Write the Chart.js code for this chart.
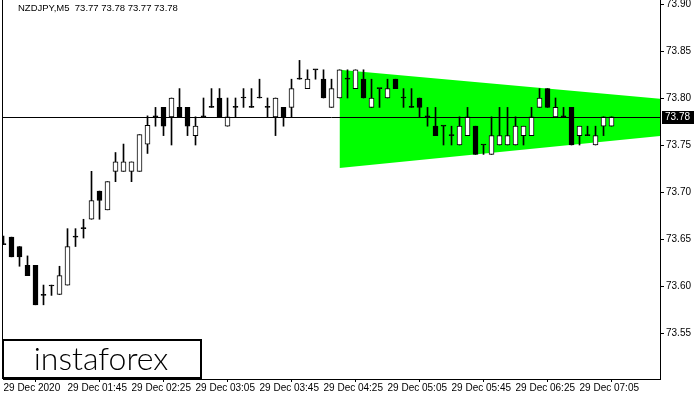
<!DOCTYPE html>
<html>
<head>
<meta charset="utf-8">
<script src="https://cdn.jsdelivr.net/npm/chart.js@4"></script>
<style>
  body { margin: 0; background: #fff; }
</style>
</head>
<body>
<canvas id="chart" width="700" height="400"></canvas>
<script>
// NZDJPY M5 candles, one entry per bar
const opens  = [73.645,73.652,73.642,73.622,73.622,73.590,73.600,73.591,73.601,73.652,
                73.661,73.671,73.701,73.681,73.722,73.722,73.722,73.722,73.751,73.780,
                73.790,73.780,73.790,73.790,73.760,73.780,73.790,73.800,73.770,73.790,
                73.800,73.790,73.800,73.790,73.780,73.790,73.790,73.820,73.810,73.830,
                73.820,73.790,73.800,73.820,73.810,73.820,73.790,73.810,73.800,73.820,
                73.800,73.790,73.800,73.780,73.770,73.770,73.760,73.750,73.760,73.770,
                73.750,73.740,73.750,73.750,73.750,73.760,73.760,73.790,73.810,73.780,
                73.780,73.790,73.760,73.760,73.750,73.770,73.770];
const highs  = [73.653,73.652,73.642,73.632,73.622,73.601,73.601,73.621,73.661,73.661,
                73.671,73.722,73.701,73.711,73.742,73.751,73.732,73.761,73.781,73.790,
                73.790,73.800,73.810,73.790,73.780,73.800,73.810,73.810,73.800,73.800,
                73.810,73.810,73.820,73.800,73.800,73.790,73.820,73.840,73.830,73.830,
                73.830,73.820,73.830,73.830,73.830,73.830,73.820,73.810,73.820,73.820,
                73.810,73.810,73.800,73.790,73.790,73.770,73.770,73.780,73.790,73.770,
                73.750,73.780,73.790,73.790,73.780,73.770,73.790,73.810,73.810,73.800,
                73.790,73.790,73.770,73.770,73.770,73.780,73.780];
const lows   = [73.644,73.631,73.621,73.611,73.580,73.580,73.590,73.591,73.601,73.642,
                73.651,73.671,73.671,73.681,73.711,73.722,73.711,73.722,73.741,73.770,
                73.760,73.750,73.780,73.760,73.750,73.780,73.790,73.780,73.770,73.780,
                73.790,73.790,73.800,73.780,73.760,73.770,73.780,73.820,73.810,73.820,
                73.800,73.790,73.800,73.800,73.810,73.800,73.790,73.790,73.800,73.810,
                73.790,73.790,73.780,73.770,73.760,73.750,73.750,73.750,73.760,73.740,
                73.740,73.740,73.750,73.750,73.750,73.750,73.760,73.790,73.790,73.780,
                73.780,73.750,73.750,73.760,73.750,73.760,73.770];
const closes = [73.644,73.631,73.631,73.611,73.580,73.590,73.600,73.611,73.642,73.652,
                73.661,73.691,73.691,73.711,73.732,73.732,73.732,73.761,73.771,73.780,
                73.770,73.800,73.780,73.770,73.770,73.780,73.790,73.780,73.780,73.790,
                73.800,73.790,73.800,73.790,73.800,73.780,73.810,73.820,73.820,73.830,
                73.800,73.810,73.830,73.820,73.830,73.800,73.800,73.810,73.810,73.810,
                73.800,73.790,73.790,73.780,73.760,73.770,73.760,73.770,73.780,73.740,
                73.750,73.760,73.760,73.760,73.770,73.770,73.780,73.800,73.790,73.790,
                73.780,73.750,73.770,73.760,73.760,73.780,73.780];

// bars that carry a time label, and the labels
const xTickBars = [0, 8, 16, 24, 32, 40, 48, 56, 64, 72];
const xLabels = ['29 Dec 2020', '29 Dec 01:45', '29 Dec 02:25', '29 Dec 03:05', '29 Dec 03:45',
                 '29 Dec 04:25', '29 Dec 05:05', '29 Dec 05:45', '29 Dec 06:25', '29 Dec 07:05'];
const yTicks = [73.55, 73.60, 73.65, 73.70, 73.75, 73.80, 73.85, 73.90];

// symmetrical triangle (start bar -> right edge)
const triBars  = [42, 82.2];
const triUpper = [73.830, 73.799];
const triLower = [73.7255, 73.7596];

const bidPrice = 73.78;
const title = 'NZDJPY,M5  73.77 73.78 73.77 73.78';

const bars = opens.map((_, i) => i);

const extras = {
  id: 'extras',
  afterDatasetsDraw(chart) {
    const ctx = chart.ctx;
    const a = chart.chartArea;
    const y = Math.round(chart.scales.y.getPixelForValue(bidPrice)) + 0.5;
    ctx.save();
    ctx.strokeStyle = '#000';
    ctx.lineWidth = 1;
    ctx.beginPath();
    ctx.moveTo(a.left, y);
    ctx.lineTo(a.right, y);
    ctx.stroke();
    ctx.restore();
  },
  afterDraw(chart) {
    const ctx = chart.ctx;
    const a = chart.chartArea;
    const y = Math.round(chart.scales.y.getPixelForValue(bidPrice)) + 0.5;
    ctx.save();
    // left border
    ctx.strokeStyle = '#000';
    ctx.lineWidth = 1;
    ctx.beginPath();
    ctx.moveTo(a.left - 0.5, 0);
    ctx.lineTo(a.left - 0.5, a.bottom);
    ctx.stroke();
    // bid label on the price axis
    ctx.fillStyle = '#000';
    ctx.fillRect(a.right + 2, y - 6.5, 32, 13);
    ctx.fillStyle = '#fff';
    ctx.font = '10px "Liberation Sans"';
    ctx.textBaseline = 'middle';
    ctx.fillText(bidPrice.toFixed(2), a.right + 5, y);
    // title
    ctx.fillStyle = '#000';
    ctx.font = '9.5px "Liberation Sans"';
    ctx.fillText(title, 18, 8);
    // logo
    ctx.fillStyle = '#fff';
    ctx.fillRect(3, 340, 198, 38);
    ctx.lineWidth = 2;
    ctx.strokeRect(3, 340, 198, 38);
    ctx.fillStyle = '#000';
    ctx.font = '300 32px Lato';
    ctx.textAlign = 'center';
    ctx.fillText('instaforex', 101, 360);
    ctx.restore();
  }
};

new Chart(document.getElementById('chart'), {
  data: {
    datasets: [
      {
        type: 'bar',
        data: bars.map(i => ({ x: i, y: [opens[i], closes[i]] })),
        backgroundColor: bars.map(i => closes[i] > opens[i] ? '#fff' : '#000'),
        borderColor: '#000',
        borderWidth: 1,
        borderSkipped: false,
        barThickness: 5,
        minBarLength: 1,
        grouped: false,
        order: 1
      },
      {
        type: 'bar',
        data: bars.map(i => ({ x: i, y: [lows[i], highs[i]] })),
        backgroundColor: '#000',
        barThickness: 1,
        grouped: false,
        order: 2
      },
      {
        type: 'line',
        data: triBars.map((b, i) => ({ x: b, y: triUpper[i] })),
        borderColor: 'rgba(0,0,0,0)',
        borderWidth: 0,
        pointRadius: 0,
        backgroundColor: '#00ff00',
        fill: '+1',
        order: 3
      },
      {
        type: 'line',
        data: triBars.map((b, i) => ({ x: b, y: triLower[i] })),
        borderColor: 'rgba(0,0,0,0)',
        borderWidth: 0,
        pointRadius: 0,
        fill: false,
        order: 4
      }
    ]
  },
  options: {
    responsive: false,
    animation: false,
    layout: { padding: { left: 3, top: 0, right: 0, bottom: 0 } },
    plugins: { legend: { display: false }, tooltip: { enabled: false } },
    scales: {
      x: {
        type: 'linear',
        min: -0.0625,
        max: 82.06,
        offset: false,
        afterBuildTicks: s => { s.ticks = xTickBars.map(v => ({ value: v })); },
        afterFit: s => { s.height = 21; s.paddingLeft = 0; s.paddingRight = 0; },
        grid: { drawOnChartArea: false, color: '#000', tickLength: 3 },
        border: { display: true, color: '#000' },
        ticks: {
          autoSkip: false,
          maxRotation: 0,
          align: 'start',
          padding: 0,
          color: '#000',
          font: { family: 'Liberation Sans', size: 10 },
          callback: (v, i) => xLabels[i]
        }
      },
      y: {
        position: 'right',
        min: 73.90 - 375 / 940,
        max: 73.90 + 4 / 940,
        afterBuildTicks: s => { s.ticks = yTicks.map(v => ({ value: v })); },
        afterFit: s => { s.width = 40; s.paddingTop = 0; s.paddingBottom = 0; },
        grid: { drawOnChartArea: false, color: '#000', tickLength: 4 },
        border: { display: true, color: '#000' },
        ticks: {
          padding: 2,
          color: '#000',
          font: { family: 'Liberation Sans', size: 10 },
          callback: v => v.toFixed(2)
        }
      }
    }
  },
  plugins: [extras]
});
</script>
</body>
</html>
